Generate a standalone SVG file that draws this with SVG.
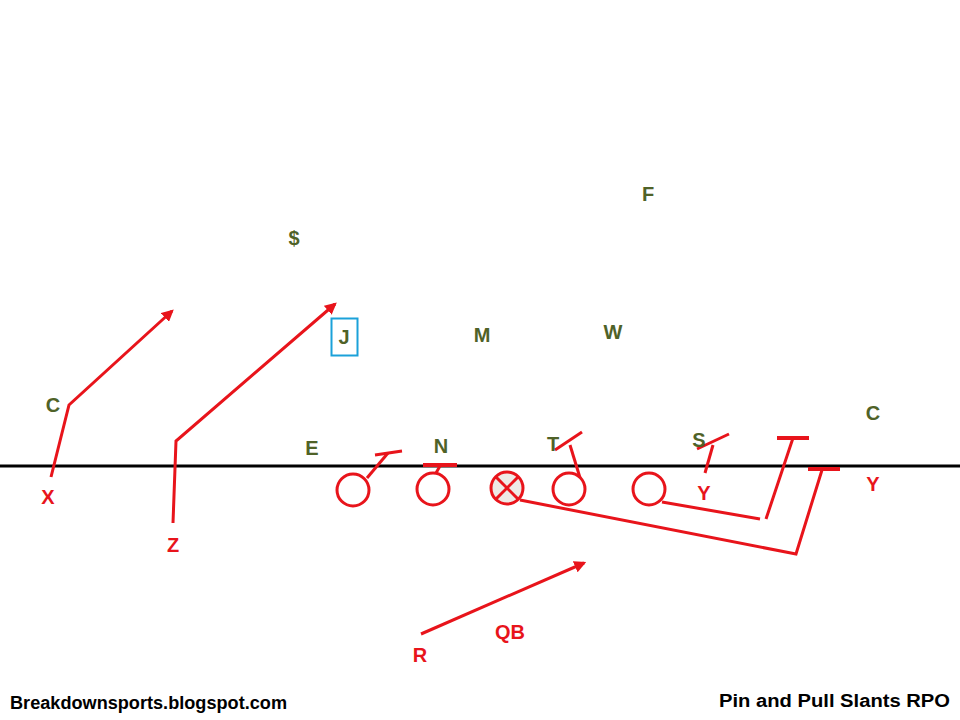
<svg xmlns="http://www.w3.org/2000/svg" width="960" height="720" viewBox="0 0 960 720">
<defs>
<marker id="arr" viewBox="0 0 10 10" refX="8" refY="5" markerWidth="4" markerHeight="4" orient="auto" markerUnits="strokeWidth">
<path d="M0,0 L10,5 L0,10 z" fill="#e8141b"/>
</marker>
<style>
.r{stroke:#e8141b;stroke-width:3;fill:none;stroke-linecap:butt;stroke-linejoin:miter}
.cap{stroke:#e8141b;stroke-width:4;fill:none}
.pl{stroke:#e8141b;stroke-width:3;fill:#fff}
.gt{font-family:"Liberation Sans",Arial,sans-serif;font-weight:bold;font-size:20px;fill:#4f6228;text-anchor:middle}
.rt{font-family:"Liberation Sans",Arial,sans-serif;font-weight:bold;font-size:20px;fill:#e8141b;text-anchor:middle}
.ft{font-family:"Liberation Sans",Arial,sans-serif;font-weight:bold;font-size:18px;fill:#000}
</style>
</defs>
<rect width="960" height="720" fill="#fff"/>
<line x1="0" y1="466" x2="960" y2="466" stroke="#000" stroke-width="3"/>
<g id="connectors">
<polyline class="r" points="51,477 69,405 172,311" marker-end="url(#arr)"/>
<polyline class="r" points="173,523 176,441 335,304" marker-end="url(#arr)"/>
<line class="r" x1="421" y1="634" x2="584" y2="563" marker-end="url(#arr)"/>
<line class="r" x1="367" y1="478" x2="388" y2="453"/><line class="r" x1="375" y1="455" x2="402" y2="451"/>
<line class="r" x1="436" y1="473" x2="440" y2="466"/><line class="cap" x1="423" y1="465" x2="457" y2="465"/>
<line class="r" x1="581" y1="481" x2="570" y2="445"/><line class="r" x1="555" y1="450" x2="582" y2="432"/>
<polyline class="r" points="662,502 760,519"/>
<polyline class="r" points="766,519 793,438"/><line class="cap" x1="777" y1="438" x2="809" y2="438"/>
<polyline class="r" points="520,500 796,554 822,470"/><line class="cap" x1="808" y1="469" x2="840" y2="469"/>
<line class="r" x1="705" y1="473" x2="713" y2="445"/><line class="r" x1="697" y1="449" x2="729" y2="434"/>
</g>
<g id="OL1"><circle class="pl" cx="353" cy="490" r="16"/></g>
<g id="OL2"><circle class="pl" cx="433" cy="489" r="16"/></g>
<g id="C"><circle cx="507" cy="488" r="16" stroke="#e8141b" stroke-width="3" fill="#eeeae6"/>
<line class="r" x1="496" y1="477" x2="518" y2="499"/><line class="r" x1="518" y1="477" x2="496" y2="499"/></g>
<g id="OL4"><circle class="pl" cx="569" cy="489" r="16"/></g>
<g id="OL5"><circle class="pl" cx="649" cy="489" r="16"/></g>
<g id="X"><text class="rt" x="48" y="504">X</text></g>
<g id="Z"><text class="rt" x="173" y="552">Z</text></g>
<g id="R"><text class="rt" x="420" y="662">R</text></g>
<g id="QB"><text class="rt" x="510" y="639">QB</text></g>
<g id="Y1"><text class="rt" x="704" y="500">Y</text></g>
<g id="Y2"><text class="rt" x="873" y="491">Y</text></g>
<g id="Cl"><text class="gt" x="53" y="412">C</text></g>
<g id="E"><text class="gt" x="312" y="455">E</text></g>
<g id="N"><text class="gt" x="441" y="453">N</text></g>
<g id="T"><text class="gt" x="553" y="451">T</text></g>
<g id="S"><text class="gt" x="699" y="447">S</text></g>
<g id="Cr"><text class="gt" x="873" y="420">C</text></g>
<g id="Dollar"><text class="gt" x="294" y="245">$</text></g>
<g id="J"><rect x="331.5" y="318.5" width="26" height="37" fill="none" stroke="#1ba1d9" stroke-width="2"/><text class="gt" x="344" y="344">J</text></g>
<g id="M"><text class="gt" x="482" y="342">M</text></g>
<g id="W"><text class="gt" x="613" y="339">W</text></g>
<g id="F"><text class="gt" x="648" y="201">F</text></g>
<text class="ft" x="10" y="709" textLength="277" lengthAdjust="spacingAndGlyphs">Breakdownsports.blogspot.com</text>
<text class="ft" x="719" y="707" textLength="231" lengthAdjust="spacingAndGlyphs">Pin and Pull Slants RPO</text>
</svg>
